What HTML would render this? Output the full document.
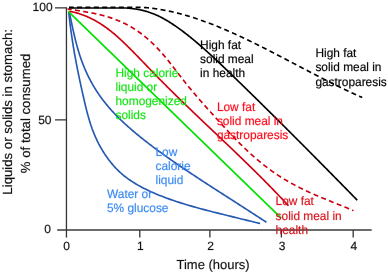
<!DOCTYPE html>
<html><head><meta charset="utf-8"><style>
html,body{margin:0;padding:0;background:#fff;}
svg{display:block;}
text{font-family:"Liberation Sans", Arial, sans-serif;text-rendering:geometricPrecision;stroke-width:0.5px;stroke-opacity:0.35;paint-order:stroke;}
</style></head><body>
<svg width="388" height="272" viewBox="0 0 388 272">
<rect width="388" height="272" fill="#fff"/>

<g stroke="#333" stroke-width="1.3" fill="none">
<path d="M66.45,7.3 V237.6" />
<path d="M55,7.9 H66.45 M55,119.95 H66.45" />
<path d="M139.8,230 V237.6 M209.9,230 V237.6 M281.4,230 V237.6 M353.2,230 V237.6" />
</g>
<path d="M57.2,230 H371.7" stroke="#3a3a3a" stroke-width="1.4" fill="none" />
<g fill="#111" stroke="#111" font-size="12" text-anchor="end">
<text x="52.6" y="11.2">100</text>
<text x="51.5" y="123.9">50</text>
<text x="51" y="233.4">0</text>
</g>
<g fill="#111" stroke="#111" font-size="12" text-anchor="middle">
<text x="66.5" y="249.8">0</text>
<text x="140.3" y="249.8">1</text>
<text x="210.6" y="249.8">2</text>
<text x="282" y="249.8">3</text>
<text x="353.9" y="249.8">4</text>
</g>
<text x="213.1" y="268.8" font-size="13" fill="#111" stroke="#111" text-anchor="middle">Time (hours)</text>
<text transform="translate(11.7,111.8) rotate(-90)" font-size="13.2" fill="#111" stroke="#111" text-anchor="middle">Liquids or solids in stomach:</text>
<text transform="translate(29.5,113.4) rotate(-90)" font-size="13.2" fill="#111" stroke="#111" text-anchor="middle">% of total consumed</text>

<g fill="none" stroke-width="1.65" stroke-linecap="butt" stroke-linejoin="round">
<path d="M68.80,12.00 L68.87,12.70 L68.93,13.40 L69.00,14.10 L69.07,14.80 L69.15,15.50 L69.22,16.20 L69.29,16.90 L69.37,17.60 L69.44,18.30 L69.52,19.00 L69.59,19.70 L69.67,20.40 L69.75,21.10 L69.83,21.80 L69.92,22.50 L70.00,23.20 L70.08,23.90 L70.17,24.60 L70.26,25.30 L70.34,26.00 L70.43,26.70 L70.52,27.40 L70.61,28.10 L70.70,28.80 L70.80,29.50 L70.89,30.20 L70.99,30.90 L71.08,31.60 L71.18,32.30 L71.27,33.00 L71.37,33.70 L71.47,34.40 L71.57,35.10 L71.67,35.80 L71.77,36.50 L71.88,37.20 L71.98,37.90 L72.09,38.60 L72.19,39.30 L72.30,40.00 L72.41,40.70 L72.52,41.40 L72.63,42.10 L72.74,42.80 L72.85,43.50 L72.96,44.20 L73.07,44.90 L73.18,45.60 L73.30,46.30 L73.41,47.00 L73.53,47.70 L73.64,48.40 L73.76,49.10 L73.88,49.80 L74.00,50.50 L74.12,51.20 L74.24,51.90 L74.36,52.60 L74.48,53.30 L74.61,54.00 L74.73,54.70 L74.86,55.40 L74.99,56.10 L75.11,56.80 L75.24,57.50 L75.37,58.20 L75.50,58.90 L75.63,59.60 L75.76,60.30 L75.89,61.00 L76.03,61.70 L76.16,62.40 L76.29,63.10 L76.43,63.80 L76.56,64.50 L76.70,65.20 L76.83,65.90 L76.97,66.60 L77.11,67.30 L77.25,68.00 L77.38,68.70 L77.52,69.40 L77.66,70.10 L77.80,70.80 L77.94,71.50 L78.09,72.20 L78.23,72.90 L78.37,73.60 L78.51,74.30 L78.66,75.00 L78.80,75.70 L78.94,76.40 L79.09,77.10 L79.23,77.80 L79.38,78.50 L79.52,79.20 L79.67,79.90 L79.82,80.60 L79.97,81.30 L80.12,82.00 L80.27,82.70 L80.42,83.40 L80.57,84.10 L80.72,84.80 L80.87,85.50 L81.02,86.20 L81.18,86.90 L81.33,87.60 L81.48,88.30 L81.64,89.00 L81.80,89.70 L81.95,90.40 L82.11,91.10 L82.27,91.80 L82.42,92.50 L82.58,93.20 L82.74,93.90 L82.90,94.60 L83.06,95.30 L83.22,96.00 L83.38,96.70 L83.54,97.40 L83.70,98.10 L83.86,98.80 L84.03,99.50 L84.19,100.20 L84.35,100.90 L84.51,101.60 L84.68,102.30 L84.84,103.00 L85.00,103.70 L85.17,104.40 L85.33,105.10 L85.50,105.80 L85.67,106.50 L85.84,107.20 L86.01,107.90 L86.18,108.60 L86.35,109.30 L86.53,110.00 L86.71,110.70 L86.89,111.40 L87.07,112.10 L87.26,112.80 L87.45,113.50 L87.64,114.20 L87.83,114.90 L88.02,115.60 L88.22,116.30 L88.41,117.00 L88.61,117.70 L88.81,118.40 L89.02,119.10 L89.23,119.80 L89.44,120.50 L89.65,121.20 L89.86,121.90 L90.08,122.60 L90.30,123.30 L90.53,124.00 L90.75,124.70 L90.99,125.40 L91.22,126.10 L91.46,126.80 L91.71,127.50 L91.95,128.20 L92.21,128.90 L92.46,129.60 L92.73,130.30 L92.99,131.00 L93.26,131.70 L93.54,132.40 L93.82,133.10 L94.10,133.80 L94.39,134.50 L94.68,135.20 L94.98,135.90 L95.29,136.60 L95.60,137.30 L95.91,138.00 L96.23,138.70 L96.56,139.40 L96.89,140.10 L97.22,140.80 L97.56,141.50 L97.91,142.20 L98.26,142.90 L98.61,143.60 L98.98,144.30 L99.34,145.00 L99.72,145.70 L100.10,146.40 L100.50,147.10 L100.89,147.80 L101.30,148.50 L101.71,149.20 L102.13,149.90 L102.55,150.60 L102.98,151.30 L103.41,152.00 L103.86,152.70 L104.30,153.40 L104.76,154.10 L105.22,154.80 L105.69,155.50 L106.18,156.20 L106.66,156.90 L107.16,157.60 L107.67,158.30 L108.18,159.00 L108.70,159.70 L109.23,160.40 L109.77,161.10 L110.32,161.80 L110.88,162.50 L111.45,163.20 L112.03,163.90 L112.61,164.60 L113.21,165.30 L113.82,166.00 L114.45,166.70 L115.09,167.40 L115.73,168.10 L116.40,168.80 L117.09,169.50 L117.80,170.20 L118.52,170.90 L119.26,171.60 L120.02,172.30 L120.79,173.00 L121.58,173.70 L122.39,174.40 L123.22,175.10 L124.08,175.80 L124.97,176.50 L125.89,177.20 L126.84,177.90 L127.80,178.60 L128.79,179.30 L129.80,180.00 L130.83,180.70 L131.88,181.40 L132.96,182.10 L134.07,182.80 L135.20,183.50 L136.35,184.20 L137.54,184.90 L138.76,185.60 L140.02,186.30 L141.32,187.00 L142.65,187.70 L144.02,188.40 L145.43,189.10 L146.86,189.80 L148.33,190.50 L149.82,191.20 L151.33,191.90 L152.89,192.60 L154.50,193.30 L156.16,194.00 L157.86,194.70 L159.59,195.40 L161.37,196.10 L163.17,196.80 L165.01,197.50 L166.91,198.20 L168.85,198.90 L170.83,199.60 L172.85,200.30 L174.91,201.00 L177.02,201.70 L179.17,202.40 L181.37,203.10 L183.62,203.80 L185.91,204.50 L188.24,205.20 L190.63,205.90 L193.07,206.60 L195.55,207.30 L198.07,208.00 L200.62,208.70 L203.24,209.40 L205.91,210.10 L208.62,210.80 L211.35,211.50 L214.12,212.20 L216.93,212.90 L219.75,213.60 L222.58,214.30 L225.40,215.00 L228.23,215.70 L231.07,216.40 L233.90,217.10 L236.75,217.80 L239.59,218.50 L242.45,219.20 L245.30,219.90 L248.17,220.60 L251.04,221.30 L253.91,222.00 L256.80,222.70 L259.69,223.40 L260.10,223.50" stroke="#2559b0" />
<path d="M69.30,12.00 L69.44,12.70 L69.59,13.40 L69.73,14.10 L69.88,14.80 L70.02,15.50 L70.17,16.20 L70.31,16.90 L70.46,17.60 L70.61,18.30 L70.75,19.00 L70.90,19.70 L71.05,20.40 L71.20,21.10 L71.34,21.80 L71.49,22.50 L71.64,23.20 L71.79,23.90 L71.93,24.60 L72.08,25.30 L72.23,26.00 L72.38,26.70 L72.53,27.40 L72.68,28.10 L72.83,28.80 L72.98,29.50 L73.13,30.20 L73.29,30.90 L73.44,31.60 L73.60,32.30 L73.76,33.00 L73.92,33.70 L74.09,34.40 L74.25,35.10 L74.42,35.80 L74.58,36.50 L74.75,37.20 L74.92,37.90 L75.09,38.60 L75.26,39.30 L75.44,40.00 L75.61,40.70 L75.79,41.40 L75.97,42.10 L76.15,42.80 L76.34,43.50 L76.52,44.20 L76.71,44.90 L76.90,45.60 L77.09,46.30 L77.28,47.00 L77.48,47.70 L77.68,48.40 L77.89,49.10 L78.09,49.80 L78.30,50.50 L78.51,51.20 L78.72,51.90 L78.94,52.60 L79.16,53.30 L79.38,54.00 L79.60,54.70 L79.83,55.40 L80.06,56.10 L80.29,56.80 L80.53,57.50 L80.77,58.20 L81.01,58.90 L81.26,59.60 L81.51,60.30 L81.77,61.00 L82.02,61.70 L82.28,62.40 L82.54,63.10 L82.81,63.80 L83.08,64.50 L83.35,65.20 L83.63,65.90 L83.92,66.60 L84.21,67.30 L84.50,68.00 L84.80,68.70 L85.10,69.40 L85.40,70.10 L85.71,70.80 L86.02,71.50 L86.33,72.20 L86.65,72.90 L86.97,73.60 L87.30,74.30 L87.63,75.00 L87.96,75.70 L88.31,76.40 L88.66,77.10 L89.01,77.80 L89.37,78.50 L89.73,79.20 L90.10,79.90 L90.47,80.60 L90.85,81.30 L91.22,82.00 L91.60,82.70 L91.99,83.40 L92.39,84.10 L92.80,84.80 L93.21,85.50 L93.62,86.20 L94.04,86.90 L94.46,87.60 L94.89,88.30 L95.32,89.00 L95.76,89.70 L96.20,90.40 L96.65,91.10 L97.10,91.80 L97.57,92.50 L98.03,93.20 L98.51,93.90 L98.99,94.60 L99.47,95.30 L99.97,96.00 L100.47,96.70 L100.97,97.40 L101.48,98.10 L102.00,98.80 L102.53,99.50 L103.06,100.20 L103.60,100.90 L104.14,101.60 L104.70,102.30 L105.26,103.00 L105.82,103.70 L106.40,104.40 L106.98,105.10 L107.56,105.80 L108.15,106.50 L108.75,107.20 L109.35,107.90 L109.96,108.60 L110.57,109.30 L111.19,110.00 L111.82,110.70 L112.46,111.40 L113.10,112.10 L113.76,112.80 L114.43,113.50 L115.10,114.20 L115.78,114.90 L116.46,115.60 L117.15,116.30 L117.84,117.00 L118.54,117.70 L119.25,118.40 L119.97,119.10 L120.69,119.80 L121.42,120.50 L122.16,121.20 L122.90,121.90 L123.65,122.60 L124.41,123.30 L125.17,124.00 L125.94,124.70 L126.71,125.40 L127.49,126.10 L128.28,126.80 L129.07,127.50 L129.86,128.20 L130.67,128.90 L131.47,129.60 L132.28,130.30 L133.10,131.00 L133.92,131.70 L134.75,132.40 L135.59,133.10 L136.43,133.80 L137.27,134.50 L138.12,135.20 L138.98,135.90 L139.84,136.60 L140.71,137.30 L141.59,138.00 L142.47,138.70 L143.35,139.40 L144.24,140.10 L145.13,140.80 L146.02,141.50 L146.92,142.20 L147.83,142.90 L148.73,143.60 L149.64,144.30 L150.56,145.00 L151.48,145.70 L152.41,146.40 L153.35,147.10 L154.28,147.80 L155.23,148.50 L156.17,149.20 L157.12,149.90 L158.08,150.60 L159.03,151.30 L160.00,152.00 L160.96,152.70 L161.93,153.40 L162.90,154.10 L163.87,154.80 L164.85,155.50 L165.83,156.20 L166.82,156.90 L167.81,157.60 L168.81,158.30 L169.81,159.00 L170.81,159.70 L171.81,160.40 L172.82,161.10 L173.82,161.80 L174.83,162.50 L175.85,163.20 L176.86,163.90 L177.89,164.60 L178.91,165.30 L179.94,166.00 L180.97,166.70 L182.00,167.40 L183.04,168.10 L184.08,168.80 L185.12,169.50 L186.16,170.20 L187.20,170.90 L188.25,171.60 L189.30,172.30 L190.35,173.00 L191.41,173.70 L192.46,174.40 L193.52,175.10 L194.58,175.80 L195.64,176.50 L196.70,177.20 L197.77,177.90 L198.84,178.60 L199.90,179.30 L200.97,180.00 L202.04,180.70 L203.12,181.40 L204.19,182.10 L205.27,182.80 L206.35,183.50 L207.43,184.20 L208.51,184.90 L209.59,185.60 L210.67,186.30 L211.76,187.00 L212.84,187.70 L213.92,188.40 L215.01,189.10 L216.10,189.80 L217.19,190.50 L218.28,191.20 L219.37,191.90 L220.46,192.60 L221.55,193.30 L222.64,194.00 L223.73,194.70 L224.82,195.40 L225.92,196.10 L227.01,196.80 L228.11,197.50 L229.20,198.20 L230.29,198.90 L231.39,199.60 L232.48,200.30 L233.56,201.00 L234.65,201.70 L235.74,202.40 L236.83,203.10 L237.91,203.80 L239.00,204.50 L240.09,205.20 L241.17,205.90 L242.26,206.60 L243.34,207.30 L244.43,208.00 L245.51,208.70 L246.60,209.40 L247.68,210.10 L248.76,210.80 L249.85,211.50 L250.93,212.20 L252.01,212.90 L253.09,213.60 L254.17,214.30 L255.25,215.00 L256.33,215.70 L257.41,216.40 L258.49,217.10 L259.56,217.80 L260.64,218.50 L261.72,219.20 L262.79,219.90 L263.87,220.60 L264.94,221.30 L266.02,222.00 L266.40,222.25" stroke="#2559b0" />
<path d="M68.25,11.3 L281.25,218.1" stroke="#00e000" />
<path d="M69.50,11.30 L70.20,11.44 L70.90,11.59 L71.60,11.74 L72.30,11.89 L73.00,12.04 L73.70,12.20 L74.40,12.36 L75.10,12.53 L75.80,12.71 L76.50,12.89 L77.20,13.09 L77.90,13.29 L78.60,13.50 L79.30,13.72 L80.00,13.94 L80.70,14.17 L81.40,14.41 L82.10,14.66 L82.80,14.91 L83.50,15.17 L84.20,15.44 L84.90,15.71 L85.60,16.00 L86.30,16.29 L87.00,16.58 L87.70,16.89 L88.40,17.21 L89.10,17.53 L89.80,17.86 L90.50,18.19 L91.20,18.54 L91.90,18.89 L92.60,19.24 L93.30,19.61 L94.00,19.98 L94.70,20.35 L95.40,20.74 L96.10,21.14 L96.80,21.54 L97.50,21.95 L98.20,22.37 L98.90,22.79 L99.60,23.22 L100.30,23.66 L101.00,24.11 L101.70,24.56 L102.40,25.02 L103.10,25.49 L103.80,25.97 L104.50,26.46 L105.20,26.95 L105.90,27.45 L106.60,27.95 L107.30,28.46 L108.00,28.99 L108.70,29.52 L109.40,30.05 L110.10,30.60 L110.80,31.15 L111.50,31.71 L112.20,32.27 L112.90,32.84 L113.60,33.42 L114.30,34.00 L115.00,34.60 L115.70,35.21 L116.40,35.82 L117.10,36.43 L117.80,37.06 L118.50,37.68 L119.20,38.32 L119.90,38.95 L120.60,39.60 L121.30,40.25 L122.00,40.90 L122.70,41.55 L123.40,42.22 L124.10,42.89 L124.80,43.56 L125.50,44.24 L126.20,44.92 L126.90,45.61 L127.60,46.29 L128.30,46.98 L129.00,47.68 L129.70,48.37 L130.40,49.08 L131.10,49.78 L131.80,50.49 L132.50,51.20 L133.20,51.91 L133.90,52.62 L134.60,53.33 L135.30,54.04 L136.00,54.76 L136.70,55.47 L137.40,56.19 L138.10,56.91 L138.80,57.64 L139.50,58.36 L140.20,59.08 L140.90,59.80 L141.60,60.53 L142.30,61.25 L143.00,61.98 L143.70,62.70 L144.40,63.43 L145.10,64.15 L145.80,64.88 L146.50,65.60 L147.20,66.33 L147.90,67.06 L148.60,67.78 L149.30,68.51 L150.00,69.23 L150.70,69.96 L151.40,70.68 L152.10,71.40 L152.80,72.13 L153.50,72.85 L154.20,73.57 L154.90,74.29 L155.60,75.01 L156.30,75.73 L157.00,76.44 L157.70,77.16 L158.40,77.87 L159.10,78.58 L159.80,79.30 L160.50,80.01 L161.20,80.72 L161.90,81.42 L162.60,82.13 L163.30,82.84 L164.00,83.54 L164.70,84.25 L165.40,84.95 L166.10,85.65 L166.80,86.35 L167.50,87.05 L168.20,87.75 L168.90,88.45 L169.60,89.14 L170.30,89.84 L171.00,90.53 L171.70,91.22 L172.40,91.92 L173.10,92.61 L173.80,93.30 L174.50,93.99 L175.20,94.68 L175.90,95.36 L176.60,96.05 L177.30,96.73 L178.00,97.42 L178.70,98.10 L179.40,98.79 L180.10,99.47 L180.80,100.15 L181.50,100.83 L182.20,101.51 L182.90,102.19 L183.60,102.87 L184.30,103.55 L185.00,104.23 L185.70,104.90 L186.40,105.58 L187.10,106.25 L187.80,106.93 L188.50,107.60 L189.20,108.27 L189.90,108.95 L190.60,109.62 L191.30,110.29 L192.00,110.96 L192.70,111.64 L193.40,112.31 L194.10,112.98 L194.80,113.65 L195.50,114.32 L196.20,114.99 L196.90,115.66 L197.60,116.32 L198.30,116.99 L199.00,117.66 L199.70,118.33 L200.40,118.99 L201.10,119.66 L201.80,120.32 L202.50,120.99 L203.20,121.66 L203.90,122.32 L204.60,122.99 L205.30,123.65 L206.00,124.32 L206.70,124.98 L207.40,125.64 L208.10,126.31 L208.80,126.97 L209.50,127.64 L210.20,128.30 L210.90,128.96 L211.60,129.63 L212.30,130.29 L213.00,130.96 L213.70,131.62 L214.40,132.28 L215.10,132.95 L215.80,133.61 L216.50,134.27 L217.20,134.94 L217.90,135.60 L218.60,136.27 L219.30,136.93 L220.00,137.59 L220.70,138.26 L221.40,138.92 L222.10,139.59 L222.80,140.25 L223.50,140.92 L224.20,141.58 L224.90,142.25 L225.60,142.91 L226.30,143.58 L227.00,144.24 L227.70,144.91 L228.40,145.58 L229.10,146.25 L229.80,146.91 L230.50,147.58 L231.20,148.25 L231.90,148.92 L232.60,149.59 L233.30,150.26 L234.00,150.93 L234.70,151.60 L235.40,152.27 L236.10,152.94 L236.80,153.61 L237.50,154.28 L238.20,154.96 L238.90,155.63 L239.60,156.30 L240.30,156.98 L241.00,157.66 L241.70,158.33 L242.40,159.01 L243.10,159.69 L243.80,160.37 L244.50,161.05 L245.20,161.73 L245.90,162.41 L246.60,163.09 L247.30,163.77 L248.00,164.45 L248.70,165.13 L249.40,165.82 L250.10,166.50 L250.80,167.19 L251.50,167.87 L252.20,168.56 L252.90,169.25 L253.60,169.94 L254.30,170.63 L255.00,171.32 L255.70,172.01 L256.40,172.70 L257.10,173.39 L257.80,174.09 L258.50,174.79 L259.20,175.48 L259.90,176.18 L260.60,176.88 L261.30,177.58 L262.00,178.28 L262.70,178.98 L263.40,179.69 L264.10,180.39 L264.80,181.10 L265.50,181.80 L266.20,182.51 L266.90,183.22 L267.60,183.93 L268.30,184.64 L269.00,185.36 L269.70,186.07 L270.40,186.79 L271.10,187.50 L271.80,188.22 L272.50,188.94 L273.20,189.66 L273.90,190.39 L274.60,191.11 L275.30,191.84 L276.00,192.56 L276.70,193.29 L277.40,194.02 L278.10,194.75 L278.80,195.48 L279.50,196.21 L280.20,196.95 L280.90,197.68 L281.60,198.42 L282.30,199.16 L283.00,199.90 L283.70,200.65 L284.40,201.39 L285.10,202.14 L285.80,202.89 L286.50,203.64 L287.20,204.40 L287.90,205.15 L288.50,205.80" stroke="#cd000f" />
<path d="M67.50,9.00 L68.20,9.10 L68.90,9.21 L69.60,9.31 L70.30,9.42 L71.00,9.52 L71.70,9.63 L72.40,9.73 L73.10,9.84 L73.80,9.94 L74.50,10.05 L75.20,10.16 L75.90,10.27 L76.60,10.37 L77.30,10.48 L78.00,10.59 L78.70,10.70 L79.40,10.81 L80.10,10.91 L80.80,11.02 L81.50,11.13 L82.20,11.25 L82.90,11.36 L83.60,11.48 L84.30,11.60 L85.00,11.72 L85.70,11.84 L86.40,11.96 L87.10,12.08 L87.80,12.21 L88.50,12.33 L89.20,12.46 L89.90,12.59 L90.60,12.72 L91.30,12.85 L92.00,12.99 L92.70,13.13 L93.40,13.27 L94.10,13.41 L94.80,13.55 L95.50,13.70 L96.20,13.85 L96.90,14.01 L97.60,14.17 L98.30,14.33 L99.00,14.50 L99.70,14.66 L100.40,14.84 L101.10,15.01 L101.80,15.19 L102.50,15.37 L103.20,15.56 L103.90,15.75 L104.60,15.94 L105.30,16.14 L106.00,16.34 L106.70,16.54 L107.40,16.75 L108.10,16.96 L108.80,17.18 L109.50,17.40 L110.20,17.62 L110.90,17.86 L111.60,18.10 L112.30,18.34 L113.00,18.59 L113.70,18.85 L114.40,19.11 L115.10,19.37 L115.80,19.65 L116.50,19.92 L117.20,20.20 L117.90,20.48 L118.60,20.77 L119.30,21.06 L120.00,21.36 L120.70,21.66 L121.40,21.96 L122.10,22.27 L122.80,22.59 L123.50,22.92 L124.20,23.26 L124.90,23.61 L125.60,23.97 L126.30,24.33 L127.00,24.69 L127.70,25.06 L128.40,25.44 L129.10,25.83 L129.80,26.22 L130.50,26.62 L131.20,27.02 L131.90,27.44 L132.60,27.86 L133.30,28.29 L134.00,28.72 L134.70,29.17 L135.40,29.62 L136.10,30.08 L136.80,30.55 L137.50,31.03 L138.20,31.51 L138.90,32.00 L139.60,32.50 L140.30,33.01 L141.00,33.53 L141.70,34.05 L142.40,34.59 L143.10,35.14 L143.80,35.69 L144.50,36.25 L145.20,36.82 L145.90,37.40 L146.60,37.98 L147.30,38.58 L148.00,39.18 L148.70,39.80 L149.40,40.42 L150.10,41.06 L150.80,41.70 L151.50,42.35 L152.20,43.01 L152.90,43.68 L153.60,44.35 L154.30,45.03 L155.00,45.73 L155.70,46.44 L156.40,47.16 L157.10,47.88 L157.80,48.62 L158.50,49.37 L159.20,50.12 L159.90,50.89 L160.60,51.66 L161.30,52.44 L162.00,53.23 L162.70,54.03 L163.40,54.85 L164.10,55.67 L164.80,56.50 L165.50,57.34 L166.20,58.19 L166.90,59.05 L167.60,59.91 L168.30,60.77 L169.00,61.64 L169.70,62.52 L170.40,63.40 L171.10,64.30 L171.80,65.19 L172.50,66.09 L173.20,67.00 L173.90,67.91 L174.60,68.81 L175.30,69.72 L176.00,70.63 L176.70,71.53 L177.40,72.43 L178.10,73.34 L178.80,74.24 L179.50,75.16 L180.20,76.07 L180.90,76.98 L181.60,77.89 L182.30,78.80 L183.00,79.70 L183.70,80.60 L184.40,81.48 L185.10,82.36 L185.80,83.23 L186.50,84.10 L187.20,84.96 L187.90,85.82 L188.60,86.68 L189.30,87.53 L190.00,88.38 L190.70,89.22 L191.40,90.07 L192.10,90.90 L192.80,91.74 L193.50,92.57 L194.20,93.40 L194.90,94.23 L195.60,95.06 L196.30,95.88 L197.00,96.70 L197.70,97.52 L198.40,98.33 L199.10,99.14 L199.80,99.95 L200.50,100.76 L201.20,101.57 L201.90,102.37 L202.60,103.17 L203.30,103.97 L204.00,104.76 L204.70,105.55 L205.40,106.34 L206.10,107.12 L206.80,107.90 L207.50,108.68 L208.20,109.45 L208.90,110.23 L209.60,111.00 L210.30,111.77 L211.00,112.54 L211.70,113.31 L212.40,114.08 L213.10,114.85 L213.80,115.62 L214.50,116.39 L215.20,117.16 L215.90,117.93 L216.60,118.69 L217.30,119.46 L218.00,120.23 L218.70,121.00 L219.40,121.77 L220.10,122.54 L220.80,123.31 L221.50,124.08 L222.20,124.85 L222.90,125.61 L223.60,126.38 L224.30,127.14 L225.00,127.91 L225.70,128.67 L226.40,129.42 L227.10,130.18 L227.80,130.94 L228.50,131.69 L229.20,132.44 L229.90,133.18 L230.60,133.93 L231.30,134.67 L232.00,135.41 L232.70,136.14 L233.40,136.87 L234.10,137.61 L234.80,138.34 L235.50,139.06 L236.20,139.78 L236.90,140.50 L237.60,141.22 L238.30,141.93 L239.00,142.64 L239.70,143.35 L240.40,144.05 L241.10,144.75 L241.80,145.44 L242.50,146.13 L243.20,146.81 L243.90,147.49 L244.60,148.16 L245.30,148.83 L246.00,149.50 L246.70,150.16 L247.40,150.82 L248.10,151.47 L248.80,152.12 L249.50,152.77 L250.20,153.41 L250.90,154.05 L251.60,154.68 L252.30,155.30 L253.00,155.92 L253.70,156.53 L254.40,157.14 L255.10,157.75 L255.80,158.35 L256.50,158.95 L257.20,159.54 L257.90,160.13 L258.60,160.72 L259.30,161.31 L260.00,161.89 L260.70,162.46 L261.40,163.04 L262.10,163.60 L262.80,164.17 L263.50,164.73 L264.20,165.28 L264.90,165.83 L265.60,166.38 L266.30,166.92 L267.00,167.45 L267.70,167.98 L268.40,168.51 L269.10,169.03 L269.80,169.54 L270.50,170.05 L271.20,170.56 L271.90,171.06 L272.60,171.56 L273.30,172.05 L274.00,172.54 L274.70,173.02 L275.40,173.50 L276.10,173.98 L276.80,174.45 L277.50,174.91 L278.20,175.38 L278.90,175.83 L279.60,176.29 L280.30,176.74 L281.00,177.18 L281.70,177.62 L282.40,178.05 L283.10,178.48 L283.80,178.90 L284.50,179.33 L285.20,179.75 L285.90,180.16 L286.60,180.57 L287.30,180.98 L288.00,181.39 L288.70,181.79 L289.40,182.19 L290.10,182.59 L290.80,182.98 L291.50,183.37 L292.20,183.76 L292.90,184.14 L293.60,184.52 L294.30,184.89 L295.00,185.27 L295.70,185.64 L296.40,186.00 L297.10,186.37 L297.80,186.73 L298.50,187.08 L299.20,187.44 L299.90,187.79 L300.60,188.13 L301.30,188.48 L302.00,188.82 L302.70,189.16 L303.40,189.50 L304.10,189.84 L304.80,190.17 L305.50,190.50 L306.20,190.84 L306.90,191.16 L307.60,191.49 L308.30,191.82 L309.00,192.14 L309.70,192.46 L310.40,192.77 L311.10,193.09 L311.80,193.40 L312.50,193.71 L313.20,194.02 L313.90,194.32 L314.60,194.63 L315.30,194.93 L316.00,195.24 L316.70,195.54 L317.40,195.84 L318.10,196.14 L318.80,196.44 L319.50,196.73 L320.20,197.03 L320.90,197.32 L321.60,197.61 L322.30,197.90 L323.00,198.19 L323.70,198.48 L324.40,198.77 L325.10,199.05 L325.80,199.34 L326.50,199.63 L327.20,199.91 L327.90,200.20 L328.60,200.48 L329.30,200.77 L330.00,201.05 L330.70,201.33 L331.40,201.62 L332.10,201.90 L332.80,202.18 L333.50,202.46 L334.20,202.74 L334.90,203.02 L335.60,203.30 L336.30,203.58 L337.00,203.85 L337.70,204.14 L338.40,204.42 L339.10,204.70 L339.80,204.98 L340.50,205.26 L341.20,205.55 L341.90,205.83 L342.60,206.12 L343.30,206.40 L344.00,206.69 L344.70,206.97 L345.40,207.26 L346.10,207.55 L346.80,207.83 L347.50,208.12 L348.20,208.41 L348.90,208.70 L349.60,208.99 L350.30,209.27 L351.00,209.56 L351.70,209.85 L352.40,210.14 L353.10,210.43 L353.50,210.60" stroke="#cd000f" stroke-dasharray="5 3.354" stroke-dashoffset="0.81" />
<path d="M69,7.95 L100.00,7.95 L100.70,7.95 L101.40,7.95 L102.10,7.95 L102.80,7.95 L103.50,7.95 L104.20,7.95 L104.90,7.95 L105.60,7.95 L106.30,7.95 L107.00,7.95 L107.70,7.95 L108.40,7.95 L109.10,7.95 L109.80,7.95 L110.50,7.95 L111.20,7.95 L111.90,7.95 L112.60,7.95 L113.30,7.95 L114.00,7.95 L114.70,7.95 L115.40,7.95 L116.10,7.95 L116.80,7.95 L117.50,7.95 L118.20,7.95 L118.90,7.95 L119.60,7.96 L120.30,7.96 L121.00,7.96 L121.70,7.96 L122.40,7.96 L123.10,7.96 L123.80,7.96 L124.50,7.97 L125.20,7.97 L125.90,7.98 L126.60,8.02 L127.30,8.06 L128.00,8.12 L128.70,8.18 L129.40,8.25 L130.10,8.33 L130.80,8.42 L131.50,8.50 L132.20,8.59 L132.90,8.67 L133.60,8.75 L134.30,8.85 L135.00,8.95 L135.70,9.05 L136.40,9.17 L137.10,9.28 L137.80,9.41 L138.50,9.54 L139.20,9.67 L139.90,9.80 L140.60,9.95 L141.30,10.10 L142.00,10.25 L142.70,10.42 L143.40,10.59 L144.10,10.77 L144.80,10.95 L145.50,11.14 L146.20,11.34 L146.90,11.54 L147.60,11.75 L148.30,11.97 L149.00,12.20 L149.70,12.44 L150.40,12.68 L151.10,12.93 L151.80,13.19 L152.50,13.45 L153.20,13.72 L153.90,14.00 L154.60,14.29 L155.30,14.59 L156.00,14.90 L156.70,15.21 L157.40,15.53 L158.10,15.86 L158.80,16.19 L159.50,16.53 L160.20,16.87 L160.90,17.23 L161.60,17.60 L162.30,17.97 L163.00,18.35 L163.70,18.73 L164.40,19.11 L165.10,19.51 L165.80,19.91 L166.50,20.32 L167.20,20.74 L167.90,21.16 L168.60,21.58 L169.30,22.02 L170.00,22.46 L170.70,22.90 L171.40,23.35 L172.10,23.80 L172.80,24.26 L173.50,24.73 L174.20,25.20 L174.90,25.67 L175.60,26.15 L176.30,26.63 L177.00,27.12 L177.70,27.62 L178.40,28.12 L179.10,28.62 L179.80,29.13 L180.50,29.64 L181.20,30.15 L181.90,30.67 L182.60,31.19 L183.30,31.72 L184.00,32.25 L184.70,32.78 L185.40,33.32 L186.10,33.87 L186.80,34.41 L187.50,34.96 L188.20,35.51 L188.90,36.07 L189.60,36.63 L190.30,37.19 L191.00,37.76 L191.70,38.33 L192.40,38.90 L193.10,39.48 L193.80,40.06 L194.50,40.64 L195.20,41.23 L195.90,41.82 L196.60,42.41 L197.30,43.00 L198.00,43.60 L198.70,44.20 L199.40,44.80 L200.10,45.41 L200.80,46.02 L201.50,46.63 L202.20,47.24 L202.90,47.86 L203.60,48.48 L204.30,49.10 L205.00,49.72 L205.70,50.35 L206.40,50.98 L207.10,51.61 L207.80,52.24 L208.50,52.88 L209.20,53.51 L209.90,54.15 L210.60,54.79 L211.30,55.44 L212.00,56.08 L212.70,56.73 L213.40,57.37 L214.10,58.02 L214.80,58.68 L215.50,59.33 L216.20,59.98 L216.90,60.64 L217.60,61.30 L218.30,61.96 L219.00,62.62 L219.70,63.28 L220.40,63.94 L221.10,64.61 L221.80,65.28 L222.50,65.94 L223.20,66.61 L223.90,67.28 L224.60,67.95 L225.30,68.62 L226.00,69.29 L226.70,69.96 L227.40,70.64 L228.10,71.31 L228.80,71.99 L229.50,72.66 L230.20,73.34 L230.90,74.02 L231.60,74.69 L232.30,75.37 L233.00,76.05 L233.70,76.73 L234.40,77.41 L235.10,78.09 L235.80,78.77 L236.50,79.45 L237.20,80.13 L237.90,80.81 L238.60,81.49 L239.30,82.17 L240.00,82.85 L240.70,83.53 L241.40,84.21 L242.10,84.89 L242.80,85.58 L243.50,86.26 L244.20,86.94 L244.90,87.62 L245.60,88.31 L246.30,88.99 L247.00,89.67 L247.70,90.36 L248.40,91.04 L249.10,91.73 L249.80,92.41 L250.50,93.10 L251.20,93.78 L251.90,94.47 L252.60,95.15 L253.30,95.84 L254.00,96.53 L254.70,97.21 L255.40,97.90 L256.10,98.59 L256.80,99.28 L257.50,99.96 L258.20,100.65 L258.90,101.34 L259.60,102.03 L260.30,102.72 L261.00,103.41 L261.70,104.09 L262.40,104.78 L263.10,105.47 L263.80,106.16 L264.50,106.85 L265.20,107.55 L265.90,108.24 L266.60,108.93 L267.30,109.62 L268.00,110.31 L268.70,111.00 L269.40,111.69 L270.10,112.39 L270.80,113.08 L271.50,113.77 L272.20,114.46 L272.90,115.16 L273.60,115.85 L274.30,116.54 L275.00,117.24 L275.70,117.93 L276.40,118.63 L277.10,119.32 L277.80,120.02 L278.50,120.71 L279.20,121.41 L279.90,122.10 L280.60,122.80 L281.30,123.49 L282.00,124.19 L282.70,124.89 L283.40,125.58 L284.10,126.28 L284.80,126.98 L285.50,127.68 L286.20,128.37 L286.90,129.07 L287.60,129.77 L288.30,130.47 L289.00,131.16 L289.70,131.86 L290.40,132.56 L291.10,133.26 L291.80,133.96 L292.50,134.66 L293.20,135.36 L293.90,136.06 L294.60,136.76 L295.30,137.46 L296.00,138.16 L296.70,138.86 L297.40,139.56 L298.10,140.26 L298.80,140.97 L299.50,141.67 L300.20,142.37 L300.90,143.07 L301.60,143.77 L302.30,144.48 L303.00,145.18 L303.70,145.88 L304.40,146.58 L305.10,147.29 L305.80,147.99 L306.50,148.70 L307.20,149.40 L307.90,150.10 L308.60,150.81 L309.30,151.51 L310.00,152.22 L310.70,152.92 L311.40,153.63 L312.10,154.33 L312.80,155.04 L313.50,155.74 L314.20,156.45 L314.90,157.16 L315.60,157.86 L316.30,158.57 L317.00,159.27 L317.70,159.98 L318.40,160.69 L319.10,161.40 L319.80,162.10 L320.50,162.81 L321.20,163.52 L321.90,164.23 L322.60,164.93 L323.30,165.64 L324.00,166.35 L324.70,167.06 L325.40,167.77 L326.10,168.48 L326.80,169.19 L327.50,169.90 L328.20,170.61 L328.90,171.32 L329.60,172.03 L330.30,172.74 L331.00,173.45 L331.70,174.16 L332.40,174.87 L333.10,175.58 L333.80,176.29 L334.50,177.00 L335.20,177.71 L335.90,178.42 L336.60,179.13 L337.30,179.85 L338.00,180.56 L338.70,181.27 L339.40,181.98 L340.10,182.69 L340.80,183.41 L341.50,184.12 L342.20,184.83 L342.90,185.55 L343.60,186.26 L344.30,186.97 L345.00,187.69 L345.70,188.40 L346.40,189.11 L347.10,189.83 L347.80,190.54 L348.50,191.26 L349.20,191.97 L349.90,192.69 L350.60,193.40 L351.30,194.12 L352.00,194.84 L352.70,195.55 L353.40,196.27 L354.10,196.98 L354.80,197.69 L355.50,198.39 L356.20,199.10 L356.90,199.80 L357.30,200.20" stroke="#000" />
<path d="M69,7.3 L140.00,7.30 L140.70,7.33 L141.40,7.36 L142.10,7.39 L142.80,7.43 L143.50,7.47 L144.20,7.52 L144.90,7.57 L145.60,7.62 L146.30,7.67 L147.00,7.73 L147.70,7.79 L148.40,7.86 L149.10,7.93 L149.80,8.00 L150.50,8.08 L151.20,8.17 L151.90,8.25 L152.60,8.34 L153.30,8.43 L154.00,8.52 L154.70,8.61 L155.40,8.70 L156.10,8.80 L156.80,8.90 L157.50,9.01 L158.20,9.12 L158.90,9.23 L159.60,9.34 L160.30,9.46 L161.00,9.58 L161.70,9.70 L162.40,9.82 L163.10,9.94 L163.80,10.07 L164.50,10.20 L165.20,10.33 L165.90,10.47 L166.60,10.61 L167.30,10.75 L168.00,10.89 L168.70,11.04 L169.40,11.19 L170.10,11.34 L170.80,11.49 L171.50,11.64 L172.20,11.80 L172.90,11.96 L173.60,12.12 L174.30,12.29 L175.00,12.45 L175.70,12.62 L176.40,12.80 L177.10,12.97 L177.80,13.15 L178.50,13.33 L179.20,13.51 L179.90,13.69 L180.60,13.88 L181.30,14.06 L182.00,14.25 L182.70,14.44 L183.40,14.64 L184.10,14.83 L184.80,15.03 L185.50,15.23 L186.20,15.44 L186.90,15.64 L187.60,15.85 L188.30,16.06 L189.00,16.27 L189.70,16.49 L190.40,16.70 L191.10,16.92 L191.80,17.14 L192.50,17.36 L193.20,17.59 L193.90,17.81 L194.60,18.04 L195.30,18.27 L196.00,18.50 L196.70,18.74 L197.40,18.97 L198.10,19.21 L198.80,19.44 L199.50,19.68 L200.20,19.92 L200.90,20.17 L201.60,20.41 L202.30,20.66 L203.00,20.90 L203.70,21.16 L204.40,21.41 L205.10,21.67 L205.80,21.92 L206.50,22.18 L207.20,22.44 L207.90,22.71 L208.60,22.97 L209.30,23.24 L210.00,23.50 L210.70,23.77 L211.40,24.04 L212.10,24.31 L212.80,24.59 L213.50,24.86 L214.20,25.14 L214.90,25.42 L215.60,25.70 L216.30,25.98 L217.00,26.26 L217.70,26.55 L218.40,26.83 L219.10,27.12 L219.80,27.41 L220.50,27.70 L221.20,27.99 L221.90,28.28 L222.60,28.58 L223.30,28.87 L224.00,29.17 L224.70,29.47 L225.40,29.77 L226.10,30.08 L226.80,30.38 L227.50,30.68 L228.20,30.99 L228.90,31.30 L229.60,31.61 L230.30,31.92 L231.00,32.23 L231.70,32.54 L232.40,32.85 L233.10,33.16 L233.80,33.48 L234.50,33.79 L235.20,34.11 L235.90,34.43 L236.60,34.75 L237.30,35.07 L238.00,35.39 L238.70,35.72 L239.40,36.04 L240.10,36.37 L240.80,36.69 L241.50,37.02 L242.20,37.35 L242.90,37.68 L243.60,38.01 L244.30,38.34 L245.00,38.68 L245.70,39.01 L246.40,39.35 L247.10,39.68 L247.80,40.02 L248.50,40.36 L249.20,40.69 L249.90,41.03 L250.60,41.37 L251.30,41.71 L252.00,42.06 L252.70,42.40 L253.40,42.74 L254.10,43.09 L254.80,43.43 L255.50,43.78 L256.20,44.13 L256.90,44.47 L257.60,44.82 L258.30,45.17 L259.00,45.52 L259.70,45.87 L260.40,46.22 L261.10,46.57 L261.80,46.93 L262.50,47.28 L263.20,47.63 L263.90,47.99 L264.60,48.34 L265.30,48.70 L266.00,49.05 L266.70,49.41 L267.40,49.77 L268.10,50.12 L268.80,50.48 L269.50,50.84 L270.20,51.20 L270.90,51.56 L271.60,51.92 L272.30,52.28 L273.00,52.64 L273.70,53.01 L274.40,53.37 L275.10,53.73 L275.80,54.09 L276.50,54.46 L277.20,54.82 L277.90,55.18 L278.60,55.55 L279.30,55.91 L280.00,56.28 L280.70,56.64 L281.40,57.00 L282.10,57.37 L282.80,57.74 L283.50,58.10 L284.20,58.47 L284.90,58.84 L285.60,59.20 L286.30,59.57 L287.00,59.94 L287.70,60.30 L288.40,60.67 L289.10,61.04 L289.80,61.41 L290.50,61.77 L291.20,62.14 L291.90,62.51 L292.60,62.88 L293.30,63.24 L294.00,63.61 L294.70,63.98 L295.40,64.35 L296.10,64.71 L296.80,65.08 L297.50,65.45 L298.20,65.82 L298.90,66.19 L299.60,66.55 L300.30,66.92 L301.00,67.29 L301.70,67.66 L302.40,68.03 L303.10,68.39 L303.80,68.76 L304.50,69.13 L305.20,69.49 L305.90,69.86 L306.60,70.22 L307.30,70.59 L308.00,70.96 L308.70,71.32 L309.40,71.69 L310.10,72.05 L310.80,72.42 L311.50,72.78 L312.20,73.15 L312.90,73.51 L313.60,73.87 L314.30,74.24 L315.00,74.60 L315.70,74.96 L316.40,75.32 L317.10,75.68 L317.80,76.04 L318.50,76.40 L319.20,76.76 L319.90,77.12 L320.60,77.48 L321.30,77.84 L322.00,78.20 L322.70,78.56 L323.40,78.91 L324.10,79.27 L324.80,79.63 L325.50,79.98 L326.20,80.34 L326.90,80.69 L327.60,81.04 L328.30,81.39 L329.00,81.75 L329.70,82.10 L330.40,82.45 L331.10,82.80 L331.80,83.15 L332.50,83.50 L333.20,83.85 L333.90,84.19 L334.60,84.54 L335.30,84.89 L336.00,85.23 L336.70,85.58 L337.40,85.92 L338.10,86.26 L338.80,86.60 L339.50,86.94 L340.20,87.28 L340.90,87.62 L341.60,87.96 L342.30,88.29 L343.00,88.63 L343.70,88.96 L344.40,89.30 L345.10,89.63 L345.80,89.96 L346.50,90.30 L347.20,90.63 L347.90,90.96 L348.60,91.28 L349.30,91.61 L350.00,91.94 L350.70,92.27 L351.40,92.59 L352.10,92.91 L352.80,93.24 L353.50,93.56 L354.20,93.88 L354.90,94.20 L355.60,94.52 L356.30,94.84 L357.00,95.15 L357.70,95.47 L358.40,95.78 L359.10,96.10 L359.80,96.41 L360.50,96.72 L361.20,97.03 L361.90,97.35 L362.25,97.50" stroke="#000" stroke-dasharray="5 3.363" stroke-dashoffset="0.3" />
</g>
<text transform="translate(200.1,49.00) scale(0.9754,1)" fill="#000" stroke="#000" font-size="12.2">High fat</text>
<text transform="translate(200.1,63.20) scale(0.9754,1)" fill="#000" stroke="#000" font-size="12.2">solid meal</text>
<text transform="translate(200.1,77.40) scale(0.9754,1)" fill="#000" stroke="#000" font-size="12.2">in health</text>
<text transform="translate(315.4,57.10) scale(0.9754,1)" fill="#000" stroke="#000" font-size="12.2">High fat</text>
<text transform="translate(315.4,71.30) scale(0.9754,1)" fill="#000" stroke="#000" font-size="12.2">solid meal in</text>
<text transform="translate(315.4,85.50) scale(0.9754,1)" fill="#000" stroke="#000" font-size="12.2">gastroparesis</text>
<text transform="translate(216.9,110.80) scale(0.9754,1)" fill="#ff0a1a" stroke="#ff0a1a" font-size="12.2">Low fat</text>
<text transform="translate(216.9,125.00) scale(0.9754,1)" fill="#ff0a1a" stroke="#ff0a1a" font-size="12.2">solid meal in</text>
<text transform="translate(216.9,139.20) scale(0.9754,1)" fill="#ff0a1a" stroke="#ff0a1a" font-size="12.2">gastroparesis</text>
<text transform="translate(275.6,205.30) scale(0.9754,1)" fill="#d7141e" stroke="#d7141e" font-size="12.2">Low fat</text>
<text transform="translate(275.6,219.60) scale(0.9754,1)" fill="#d7141e" stroke="#d7141e" font-size="12.2">solid meal in</text>
<text transform="translate(275.6,233.90) scale(0.9754,1)" fill="#d7141e" stroke="#d7141e" font-size="12.2">health</text>
<text transform="translate(115.5,76.60) scale(0.9754,1)" fill="#12e412" stroke="#12e412" font-size="12.2">High calorie</text>
<text transform="translate(115.5,90.80) scale(0.9754,1)" fill="#12e412" stroke="#12e412" font-size="12.2">liquid or</text>
<text transform="translate(115.5,105.00) scale(0.9754,1)" fill="#12e412" stroke="#12e412" font-size="12.2">homogenized</text>
<text transform="translate(115.5,119.20) scale(0.9754,1)" fill="#12e412" stroke="#12e412" font-size="12.2">solids</text>
<text transform="translate(155.5,156.00) scale(0.9754,1)" fill="#3a8af2" stroke="#3a8af2" font-size="12.2">Low</text>
<text transform="translate(155.5,170.10) scale(0.9754,1)" fill="#3a8af2" stroke="#3a8af2" font-size="12.2">calorie</text>
<text transform="translate(155.5,184.20) scale(0.9754,1)" fill="#3a8af2" stroke="#3a8af2" font-size="12.2">liquid</text>
<text transform="translate(107,198.00) scale(0.9754,1)" fill="#3a8af2" stroke="#3a8af2" font-size="12.2">Water or</text>
<text transform="translate(107,212.20) scale(0.9754,1)" fill="#3a8af2" stroke="#3a8af2" font-size="12.2">5% glucose</text>
</svg>
</body></html>
